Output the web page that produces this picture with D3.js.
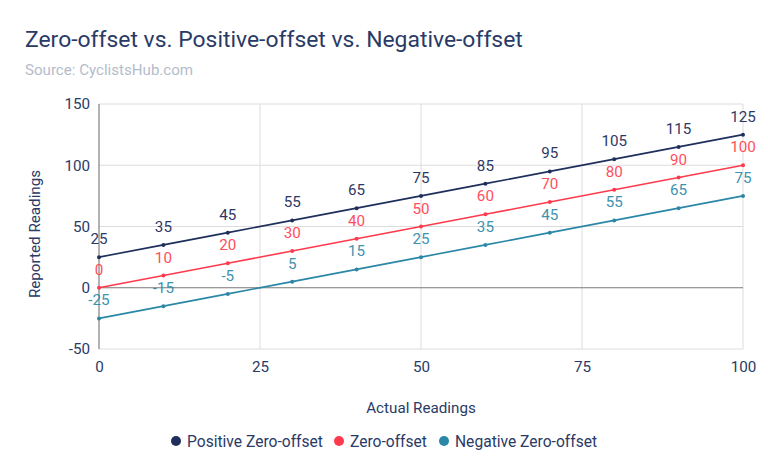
<!DOCTYPE html>
<html><head><meta charset="utf-8">
<script src="https://cdn.jsdelivr.net/npm/d3@7"></script>
<style>body{margin:0;background:#fff;font-family:Roboto,"Noto Sans",sans-serif}</style>
</head><body>
<svg id="c" width="768" height="475"></svg>
<script>
const xValues = [0,10,20,30,40,50,60,70,80,90,100];
const positiveOffset = [25,35,45,55,65,75,85,95,105,115,125];
const zeroOffset = [0,10,20,30,40,50,60,70,80,90,100];
const negativeOffset = [-25,-15,-5,5,15,25,35,45,55,65,75];
const seriesNames = ["Positive Zero-offset","Zero-offset","Negative Zero-offset"];
const seriesColors = ["#1f2f5c","#ff3a4c","#2b87a6"];
const xTicks = [0,25,50,75,100];
const yTicks = [-50,0,50,100,150];
const title = "Zero-offset vs. Positive-offset vs. Negative-offset";
const subtitle = "Source: CyclistsHub.com";

const svg = d3.select("#c");
const x = d3.scaleLinear().domain([0,100]).range([99,743]);
const y = d3.scaleLinear().domain([-50,150]).range([349,104]);
const textCol = "#2a3a66";
const fs = 15.2;

svg.append("text").attr("x",25).attr("y",47).attr("font-size",22.9).attr("fill",textCol).text(title);
svg.append("text").attr("x",25).attr("y",75).attr("font-size",15.1).attr("fill","#b4bccb").text(subtitle);

// grid
svg.append("g").selectAll("line").data(yTicks.filter(d=>d!==0)).join("line")
  .attr("x1",99).attr("x2",743).attr("y1",d=>y(d)).attr("y2",d=>y(d)).attr("stroke","#dcdcdc").attr("stroke-width",1);
svg.append("g").selectAll("line").data(xTicks.filter(d=>d!==0)).join("line")
  .attr("x1",d=>x(d)).attr("x2",d=>x(d)).attr("y1",104).attr("y2",349).attr("stroke","#dcdcdc").attr("stroke-width",1);
svg.append("line").attr("x1",99).attr("x2",743).attr("y1",y(0)).attr("y2",y(0)).attr("stroke","#777").attr("stroke-width",1);
svg.append("line").attr("x1",99).attr("x2",99).attr("y1",104).attr("y2",349).attr("stroke","#666").attr("stroke-width",1);

// axes
const yAxis = d3.axisLeft(y).tickValues(yTicks).tickSize(0).tickPadding(9).tickFormat(d=>String(d));
const gy = svg.append("g").attr("transform","translate(99,0)").call(yAxis);
gy.select(".domain").remove();
gy.selectAll("text").attr("font-size",fs).attr("fill",textCol).attr("font-family","Roboto");
const xAxis = d3.axisBottom(x).tickValues(xTicks).tickSize(0).tickPadding(12).tickFormat(d=>String(d));
const gx = svg.append("g").attr("transform","translate(0,349)").call(xAxis);
gx.select(".domain").remove();
gx.selectAll("text").attr("font-size",fs).attr("fill",textCol).attr("font-family","Roboto");

svg.append("text").attr("transform","translate(40,234) rotate(-90)").attr("text-anchor","middle")
  .attr("font-size",fs).attr("fill",textCol).text("Reported Readings");
svg.append("text").attr("x",421).attr("y",413).attr("text-anchor","middle")
  .attr("font-size",fs).attr("fill",textCol).text("Actual Readings");

const allSeries = [positiveOffset, zeroOffset, negativeOffset];
const line = d3.line().x((d,i)=>x(xValues[i])).y(d=>y(d));
allSeries.forEach((vals,si)=>{
  const g = svg.append("g");
  g.append("path").datum(vals).attr("d",line).attr("fill","none").attr("stroke",seriesColors[si]).attr("stroke-width",1.6);
  g.selectAll("circle").data(vals).join("circle").attr("cx",(d,i)=>x(xValues[i])).attr("cy",d=>y(d)).attr("r",2).attr("fill",seriesColors[si]);
  g.selectAll("text").data(vals).join("text").attr("x",(d,i)=>x(xValues[i])).attr("y",d=>y(d)-13)
    .attr("text-anchor","middle").attr("font-size",fs).attr("fill",seriesColors[si]).attr("opacity",si===0?0.95:0.9).text(d=>d);
});

// legend
const legendX = [176,339,444];
seriesNames.forEach((n,i)=>{
  svg.append("circle").attr("cx",legendX[i]).attr("cy",441).attr("r",5).attr("fill",seriesColors[i]);
  svg.append("text").attr("x",legendX[i]+11).attr("y",446.5).attr("font-size",15.6).attr("fill",textCol).text(n);
});
</script>
</body></html>
